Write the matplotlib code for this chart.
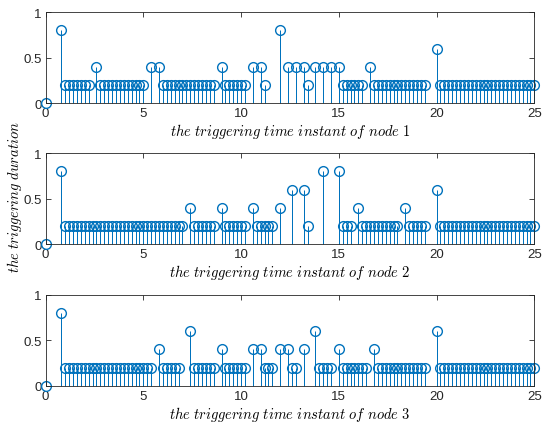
import matplotlib
matplotlib.use("Agg")
import matplotlib.pyplot as plt
import numpy as np

# durations (time since previous trigger), one list per node
dur_node1 = ([0, 0.8] + [0.2] * 7 + [0.4] + [0.2] * 12 + [0.4, 0.4] + [0.2] * 14 + [0.4]
             + [0.2] * 6 + [0.4, 0.4, 0.2, 0.8, 0.4, 0.4, 0.4, 0.2, 0.4, 0.4, 0.4, 0.4]
             + [0.2] * 6 + [0.4] + [0.2] * 14 + [0.6] + [0.2] * 25)
dur_node2 = ([0, 0.8] + [0.2] * 31 + [0.4] + [0.2] * 6 + [0.4] + [0.2] * 6 + [0.4]
             + [0.2] * 5 + [0.4, 0.6, 0.6, 0.2, 0.8, 0.8] + [0.2] * 3 + [0.4]
             + [0.2] * 10 + [0.4] + [0.2] * 5 + [0.6] + [0.2] * 25)
dur_node3 = ([0, 0.8] + [0.2] * 23 + [0.4] + [0.2] * 5 + [0.6] + [0.2] * 6 + [0.4]
             + [0.2] * 6 + [0.4, 0.4] + [0.2] * 3 + [0.4, 0.4, 0.2, 0.2, 0.4, 0.6]
             + [0.2] * 4 + [0.4] + [0.2] * 7 + [0.4] + [0.2] * 13 + [0.6] + [0.2] * 25)

nodes = [dur_node1, dur_node2, dur_node3]
xticks = [0, 5, 10, 15, 20, 25]
yticks = [0, 0.5, 1]

blue = "#0072BD"
edge = "#262626"

plt.rcParams["mathtext.fontset"] = "cm"
plt.rcParams["font.family"] = ["Liberation Sans", "DejaVu Sans"]

fig = plt.figure(figsize=(5.5, 4.27), dpi=100)
bottoms = [0.7564, 0.4262, 0.0944]

for k, (d, b) in enumerate(zip(nodes, bottoms)):
    ax = fig.add_axes([0.083, b, 0.8885, 0.2125])
    d = np.array(d)
    t = np.cumsum(d)
    ml, sl, bl = ax.stem(t, d, linefmt="-", markerfmt="o", basefmt=" ")
    sl.set_color(blue)
    sl.set_linewidth(0.72)
    sl.set_snap(True)
    ml.set_markersize(7)
    ml.set_markerfacecolor("none")
    ml.set_markeredgecolor(blue)
    ml.set_markeredgewidth(1.0)
    ml.set_clip_on(False)
    sl.set_clip_on(False)
    ax.set_xlim(0, 25)
    ax.set_ylim(0, 1)
    ax.set_xticks(xticks)
    ax.set_yticks(yticks)
    ax.set_yticklabels(["0", "0.5", "1"])
    ax.tick_params(direction="in", top=True, right=True, length=3.5,
                   width=0.6, colors=edge, labelsize=9.5, pad=3)
    for s in ax.spines.values():
        s.set_color(edge)
        s.set_linewidth(0.6)
    ax.set_xlabel(r"$the\ triggering\ time\ instant\ of\ node\ %d$" % (k + 1),
                  fontsize=10.5, labelpad=1.5)

fig.text(0.026, 0.5386, r"$the\ triggering\ duration$", fontsize=10.5,
         rotation=90, ha="center", va="center")

fig.savefig("out.png", dpi=100)
